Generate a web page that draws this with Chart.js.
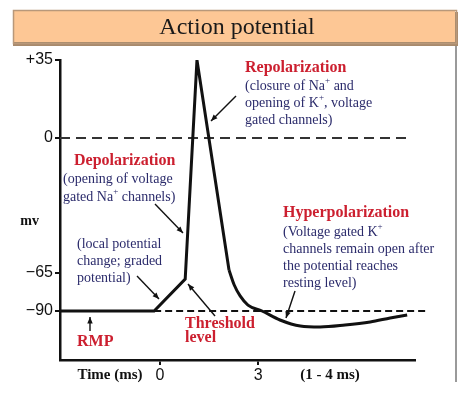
<!DOCTYPE html>
<html>
<head>
<meta charset="utf-8">
<script src="https://cdn.jsdelivr.net/npm/chart.js@4.4.0/dist/chart.umd.min.js"></script>
<style>
  html, body { margin: 0; padding: 0; background: #fff; }
  canvas { display: block; }
</style>
</head>
<body>
<canvas id="apChart" width="474" height="396"></canvas>
<script>
// 活動電位のデータ (時間 ms, 膜電位 mV)
const spikeTime = [-3.06, -0.18, 0.77, 1.13, 2.11];
const spikeMv   = [-90, -90, -69, 35, -63.6];
const recoveryTime = [2.11, 2.27, 2.45, 2.69, 3.12, 3.67, 4.29, 4.90, 5.66, 6.43, 7.04, 7.56];
const recoveryMv   = [-63.6, -72.9, -80.1, -86.1, -90, -95.5, -99.2, -99.8, -98.6, -96.7, -94.3, -92.4];
const zeroLineTime = [-3.06, 7.59];
const zeroLineMv   = [0, 0];
const rmpLineTime  = [-0.18, 8.11];
const rmpLineMv    = [-90, -90];

// 目盛り
const yTickValues = [-90, -65, -40, 0, 35];
const yTickLabels = ['−90', '−65', 'mv    ', '0', '+35'];
const xTickValues = [-1.53, 0, 3, 5.2];
const xTickLabels = ['Time (ms)', '0', '3', '(1 - 4 ms)'];

// 縦軸は等間隔ではない (元の図と同じ)
const yStops    = [-120, -90, -65, 0, 35];
const yStopFrac = [0, 49 / 300, 87 / 300, 222 / 300, 1];

const RED = '#cc1f2f';
const NAVY = '#2b2b6b';

function valueToFrac(v) {
    let i = 0;
    while (i < yStops.length - 2 && v > yStops[i + 1]) i++;
    const t = (v - yStops[i]) / (yStops[i + 1] - yStops[i]);
    return yStopFrac[i] + t * (yStopFrac[i + 1] - yStopFrac[i]);
}
function fracToValue(f) {
    let i = 0;
    while (i < yStopFrac.length - 2 && f > yStopFrac[i + 1]) i++;
    const t = (f - yStopFrac[i]) / (yStopFrac[i + 1] - yStopFrac[i]);
    return yStops[i] + t * (yStops[i + 1] - yStops[i]);
}

class UnevenScale extends Chart.LinearScale {
    static id = 'uneven';
    getPixelForValue(value) {
        return value === null ? NaN : this.getPixelForDecimal(valueToFrac(value));
    }
    getValueForPixel(pixel) {
        return fracToValue(this.getDecimalForPixel(pixel));
    }
}
Chart.register(UnevenScale);

const toPoints = (xs, ys) => xs.map((x, i) => ({ x: x, y: ys[i] }));
const isWord = (s) => /[a-z]/i.test(s);

// 注釈 (文字と矢印)
const notes = [
    { x: 245, y: 68,  text: 'Repolarization', head: true },
    { x: 245, y: 86,  text: '(closure of Na^+ and' },
    { x: 245, y: 103, text: 'opening of K^+, voltage' },
    { x: 245, y: 120, text: 'gated channels)' },
    { x: 74,  y: 161, text: 'Depolarization', head: true },
    { x: 63,  y: 179, text: '(opening of voltage' },
    { x: 63,  y: 197, text: 'gated Na^+ channels)' },
    { x: 77,  y: 244, text: '(local potential' },
    { x: 77,  y: 261, text: 'change; graded' },
    { x: 77,  y: 278, text: 'potential)' },
    { x: 185, y: 324, text: 'Threshold', head: true },
    { x: 185, y: 338, text: 'level', head: true },
    { x: 77,  y: 342, text: 'RMP', head: true },
    { x: 283, y: 213, text: 'Hyperpolarization', head: true },
    { x: 283, y: 232, text: '(Voltage gated K^+' },
    { x: 283, y: 249, text: 'channels remain open after' },
    { x: 283, y: 266, text: 'the potential reaches' },
    { x: 283, y: 283, text: 'resting level)' }
];
const arrows = [
    [236, 96, 211, 121],
    [155, 204, 183, 233],
    [137, 276, 159, 299],
    [215, 316, 188, 284],
    [90, 331, 90, 317],
    [295, 291, 286, 318]
];

function drawRich(ctx, text, x, y, size, weight, color) {
    const parts = text.split('^');
    ctx.fillStyle = color;
    ctx.textBaseline = 'middle';
    ctx.textAlign = 'left';
    let cx = x;
    parts.forEach((part, i) => {
        let rest = part;
        if (i > 0) {
            ctx.font = weight + ' ' + Math.round(size * 0.65) + 'px "Liberation Serif"';
            ctx.fillText(rest[0], cx, y - size * 0.4);
            cx += ctx.measureText(rest[0]).width;
            rest = rest.slice(1);
        }
        ctx.font = weight + ' ' + size + 'px "Liberation Serif"';
        ctx.fillText(rest, cx, y);
        cx += ctx.measureText(rest).width;
    });
}

function drawArrow(ctx, x1, y1, x2, y2) {
    const a = Math.atan2(y2 - y1, x2 - x1);
    ctx.strokeStyle = '#111';
    ctx.fillStyle = '#111';
    ctx.lineWidth = 1.4;
    ctx.beginPath();
    ctx.moveTo(x1, y1);
    ctx.lineTo(x2, y2);
    ctx.stroke();
    ctx.beginPath();
    ctx.moveTo(x2, y2);
    ctx.lineTo(x2 - 7 * Math.cos(a - 0.4), y2 - 7 * Math.sin(a - 0.4));
    ctx.lineTo(x2 - 7 * Math.cos(a + 0.4), y2 - 7 * Math.sin(a + 0.4));
    ctx.closePath();
    ctx.fill();
}

const decorPlugin = {
    id: 'decor',
    beforeDraw(chart) {
        const ctx = chart.ctx;
        ctx.save();
        ctx.fillStyle = '#fff';
        ctx.fillRect(0, 0, chart.width, chart.height);
        // 右側の枠線
        ctx.strokeStyle = '#9a9a9a';
        ctx.lineWidth = 2;
        ctx.beginPath();
        ctx.moveTo(456, 44);
        ctx.lineTo(456, 382);
        ctx.stroke();
        // タイトルの箱
        ctx.fillStyle = '#a88a6c';
        ctx.fillRect(13, 12, 445, 34);
        ctx.fillStyle = '#fdc795';
        ctx.fillRect(14, 11, 441, 31);
        ctx.strokeStyle = '#b8987a';
        ctx.lineWidth = 1.5;
        ctx.strokeRect(13.5, 10.5, 443, 33);
        ctx.restore();
    },
    afterDraw(chart) {
        const ctx = chart.ctx;
        ctx.save();
        notes.forEach(n => {
            if (n.head) drawRich(ctx, n.text, n.x, n.y, 16, 'bold', RED);
            else drawRich(ctx, n.text, n.x, n.y, 14, 'normal', NAVY);
        });
        arrows.forEach(a => drawArrow(ctx, a[0], a[1], a[2], a[3]));
        ctx.restore();
    }
};

const ctx = document.getElementById('apChart').getContext('2d');
new Chart(ctx, {
    type: 'line',
    data: {
        datasets: [
            {
                label: 'spike',
                data: toPoints(spikeTime, spikeMv),
                borderColor: '#111',
                borderWidth: 3,
                borderJoinStyle: 'miter',
                tension: 0,
                pointRadius: 0
            },
            {
                label: 'recovery',
                data: toPoints(recoveryTime, recoveryMv),
                borderColor: '#111',
                borderWidth: 3,
                cubicInterpolationMode: 'monotone',
                pointRadius: 0
            },
            {
                label: '0 mV',
                data: toPoints(zeroLineTime, zeroLineMv),
                borderColor: '#333',
                borderWidth: 2,
                borderDash: [10, 6],
                pointRadius: 0
            },
            {
                label: 'RMP',
                data: toPoints(rmpLineTime, rmpLineMv),
                borderColor: '#111',
                borderWidth: 2,
                borderDash: [7, 4],
                pointRadius: 0,
                clip: false
            }
        ]
    },
    options: {
        responsive: false,
        animation: false,
        events: [],
        layout: { padding: 0 },
        plugins: {
            legend: { display: false },
            tooltip: { enabled: false },
            title: {
                display: true,
                text: 'Action potential',
                color: '#1a1a1a',
                font: { family: '"Liberation Serif"', size: 24, weight: 'normal' },
                padding: { top: 13, bottom: 18.2 }
            }
        },
        scales: {
            x: {
                type: 'linear',
                min: -3.06,
                max: 7.8,
                afterBuildTicks: (scale) => { scale.ticks = xTickValues.map(v => ({ value: v })); },
                afterFit: (scale) => { scale.height = 36; },
                border: { color: '#111', width: 2.5 },
                grid: {
                    drawOnChartArea: false,
                    tickLength: 5,
                    lineWidth: 2,
                    tickColor: (c) => isWord(xTickLabels[c.index] || '') ? 'rgba(0,0,0,0)' : '#111'
                },
                ticks: {
                    autoSkip: false,
                    maxRotation: 0,
                    padding: 1,
                    color: '#111',
                    callback: (value, index) => xTickLabels[index],
                    font: (c) => isWord(xTickLabels[c.index] || '')
                        ? { family: '"Liberation Serif"', size: 15, weight: 'bold' }
                        : { family: '"Liberation Sans"', size: 16, weight: 'normal' }
                }
            },
            y: {
                type: 'uneven',
                min: -120,
                max: 35,
                afterBuildTicks: (scale) => { scale.ticks = yTickValues.map(v => ({ value: v })); },
                afterFit: (scale) => { scale.width = 60; },
                border: { color: '#111', width: 2.5 },
                grid: {
                    drawOnChartArea: false,
                    tickLength: 5,
                    lineWidth: 2,
                    tickColor: (c) => isWord(yTickLabels[c.index] || '') ? 'rgba(0,0,0,0)' : '#111'
                },
                ticks: {
                    autoSkip: false,
                    padding: 2,
                    color: '#111',
                    callback: (value, index) => yTickLabels[index],
                    font: (c) => isWord(yTickLabels[c.index] || '')
                        ? { family: '"Liberation Serif"', size: 14, weight: 'bold' }
                        : { family: '"Liberation Sans"', size: 16, weight: 'normal' }
                }
            },
            // 右側の余白用 (何も描かない)
            spacer: {
                type: 'linear',
                position: 'right',
                display: true,
                afterFit: (scale) => { scale.width = 59; },
                grid: { display: false },
                border: { display: false },
                ticks: { display: false }
            }
        }
    },
    plugins: [decorPlugin]
});
</script>
</body>
</html>
